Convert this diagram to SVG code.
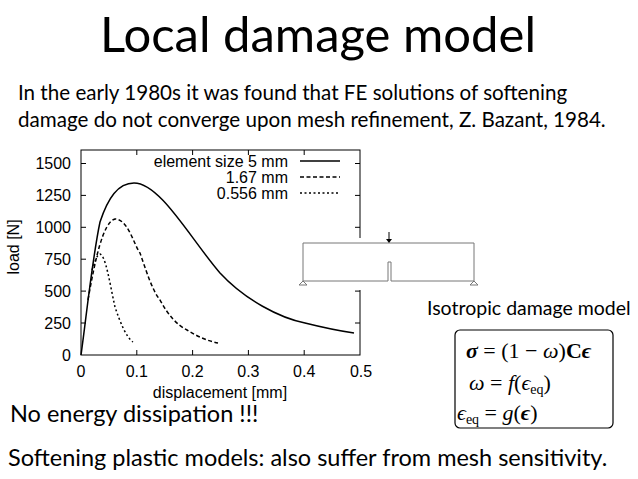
<svg xmlns="http://www.w3.org/2000/svg" width="638" height="479" viewBox="0 0 638 479">
<style>
.t{font-family:Lato,"Open Sans",sans-serif;fill:#000}
.p{font-family:"Liberation Sans",Arial,sans-serif;font-size:16px;fill:#000}
.m{font-family:"Liberation Serif","DejaVu Serif",serif;font-size:22px;fill:#000}
.ax{fill:none;stroke:#000;stroke-width:1}
.c{fill:none;stroke:#000;stroke-width:1.5}
.g{fill:none;stroke:#777;stroke-width:1}
</style>
<rect width="638" height="479" fill="#fff"/>
<text class="t" x="318" y="52" font-size="49" text-anchor="middle">Local damage model</text>
<text class="t" x="18" y="100" font-size="20.6">In the early 1980s it was found that FE solutions of softening</text>
<text class="t" x="18" y="127" font-size="20.6">damage do not converge upon mesh refinement, Z. Bazant, 1984.</text>
<g id="plot">
<rect class="ax" x="81" y="150" width="279" height="205"/>
<g class="ax">
<path d="M81 163.5h5M81 195.4h5M81 227.3h5M81 259.2h5M81 291.1h5M81 323h5M360 163.5h-5M360 195.4h-5M360 227.3h-5M360 259.2h-5M360 291.1h-5M360 323h-5M136.8 355v-5M192.6 355v-5M248.4 355v-5M304.2 355v-5M136.8 150v5M192.6 150v5M248.4 150v5M304.2 150v5"/>
</g>
<g class="p" text-anchor="end">
<text x="71" y="169">1500</text><text x="71" y="201">1250</text><text x="71" y="233">1000</text><text x="71" y="265">750</text><text x="71" y="297">500</text><text x="71" y="329">250</text><text x="71" y="361">0</text>
</g>
<g class="p" text-anchor="middle">
<text x="81" y="377">0</text><text x="136.8" y="377">0.1</text><text x="192.6" y="377">0.2</text><text x="248.4" y="377">0.3</text><text x="304.2" y="377">0.4</text><text x="361" y="377">0.5</text>
<text x="220" y="398">displacement [mm]</text>
<text transform="translate(19,247) rotate(-90)">load [N]</text>
</g>
<g class="p" text-anchor="end">
<text x="288" y="167">element size 5 mm</text><text x="288" y="183">1.67 mm</text><text x="288" y="199">0.556 mm</text>
</g>
<path class="c" d="M300 161h40"/>
<path class="c" d="M300 177h40" stroke-dasharray="4,2.5"/>
<path class="c" d="M300 193h40" stroke-dasharray="2,2.5"/>
<path class="c" d="M81 355C86 320 92 260 100 222C108 198 118 183 134 183C160 183 190 238 220 273C245 300 280 318 305 323C325 328 340 331 354 333"/>
<path class="c" stroke-dasharray="4,2.5" d="M88 300C95 260 103 222 115 219C128 219 134 245 140 253C146 270 152 290 160 300C168 315 177 325 187 330C198 337 208 341 218 343"/>
<path class="c" stroke-dasharray="2,2.5" d="M92 270C95 262 97 254 100 254C106 256 110 285 115 307C120 322 126 337 133 342"/>
</g>
<g id="beam">
<rect x="296" y="238" width="184" height="52" fill="#fff"/>
<path class="g" d="M303 243H474V281H391V262H388V281H303Z"/>
<path class="g" d="M303 281l-4 4h8zM474 281l-4 4h8z"/>
<path d="M389 232v8" stroke="#000"/><path d="M386 239l3 4 3-4z" fill="#000"/>
</g>
<text class="t" x="427" y="315" font-size="19.5">Isotropic damage model</text>
<g id="eqs">
<rect x="455" y="330" width="158" height="98" rx="5" fill="none" stroke="#000" stroke-width="1.2"/>
<text class="m" x="466" y="358"><tspan font-weight="bold" font-style="italic">σ</tspan> = (1 − <tspan font-style="italic">ω</tspan>)<tspan font-weight="bold">C</tspan><tspan font-weight="bold" font-style="italic">ϵ</tspan></text>
<text class="m" x="469" y="390"><tspan font-style="italic">ω</tspan> = <tspan font-style="italic">f</tspan>(<tspan font-style="italic">ϵ</tspan><tspan font-size="14" dy="4">eq</tspan><tspan dy="-4">)</tspan></text>
<text class="m" x="457" y="420"><tspan font-style="italic">ϵ</tspan><tspan font-size="14" dy="4">eq</tspan><tspan dy="-4"> = </tspan><tspan font-style="italic">g</tspan>(<tspan font-weight="bold" font-style="italic">ϵ</tspan>)</text>
</g>
<text class="t" x="10" y="422" font-size="23.5">No energy dissipation !!!</text>
<text class="t" x="8" y="466" font-size="23.5">Softening plastic models: also suffer from mesh sensitivity.</text>
</svg>
